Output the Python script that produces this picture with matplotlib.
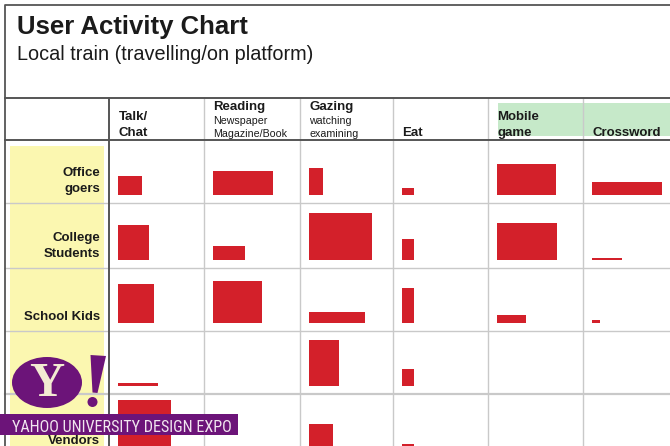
"""User activity chart - local train (travelling/on platform)."""
import matplotlib
matplotlib.use('Agg')
import matplotlib.pyplot as plt
import matplotlib.patches as mpatches
from matplotlib import font_manager

# ── Data ─────────────────────────────────────────────────────────────────────
activities = ['Talk/\nChat', 'Reading', 'Gazing', 'Eat', 'Mobile\ngame', 'Crossword']
activity_notes = ['', 'Newspaper\nMagazine/Book', 'watching\nexamining', '', '', '']
user_groups = ['Office\ngoers', 'College\nStudents', 'School Kids', '', 'Vendors']

# bar width / height per user group (one value per activity), 0 = no bar
bar_width = [
    [24, 60, 14, 12, 59, 70],
    [31, 32, 63, 12, 60, 30],
    [36, 49, 56, 12, 29, 8],
    [40, 0, 30, 12, 0, 0],
    [53, 0, 24, 12, 0, 0],
]
bar_height = [
    [19, 24, 27, 7, 31, 13],
    [35, 14, 47, 21, 37, 2],
    [39, 42, 11, 35, 8, 3],
    [3, 0, 46, 17, 0, 0],
    [49, 0, 25, 5, 0, 0],
]

# ── Layout ───────────────────────────────────────────────────────────────────
W, H = 670, 446
COL_X = [109, 204, 300, 393, 488, 583]
ROW_Y = [140, 203, 268, 331, 394, 457]
HEAD_TOP = 98
RED = '#d3202a'
DARK = '#555555'
GRID = '#c9c9c9'
INK = '#1b1b1b'
PURPLE = '#6c1479'

plt.rcParams['font.family'] = ['Liberation Sans', 'DejaVu Sans']


def find_narrow():
    # a condensed face for the badge banner, if one is installed
    for fam, stretch in [('Liberation Sans Narrow', 'normal'), ('Roboto Condensed', 'normal'),
                         ('Open Sans Condensed', 'normal'), ('DejaVu Sans', 'condensed'),
                         ('Noto Sans', 'condensed'), ('Open Sans', 'condensed')]:
        try:
            path = font_manager.findfont(
                font_manager.FontProperties(family=fam, stretch=stretch),
                fallback_to_default=False)
        except ValueError:
            continue
        if stretch == 'normal' or 'ondensed' in path:
            return fam, stretch
    return 'Liberation Sans', 'normal'


fig = plt.figure(figsize=(W / 100, H / 100), dpi=100)
ax = fig.add_axes([0, 0, 1, 1])
ax.set_xlim(0, W)
ax.set_ylim(H, 0)
ax.axis('off')

# frame
ax.plot([4.5, 4.5, W], [H, 4.5, 4.5], color=DARK, lw=1.3, zorder=3)

ax.text(17, 34, 'User Activity Chart', fontsize=18.5, fontweight='bold',
        color=INK, va='baseline')
ax.text(17, 60, 'Local train (travelling/on platform)', fontsize=14.3,
        color=INK, va='baseline')

# highlighted columns + label column
ax.add_patch(mpatches.Rectangle((498, 103), W - 498, 33, color='#c6e9c9', lw=0, zorder=1))
ax.add_patch(mpatches.Rectangle((10, 146), 94, H - 146, color='#fbf7b0', lw=0, zorder=1))

# grid
for x in COL_X[1:]:
    ax.plot([x, x], [HEAD_TOP, H], color=GRID, lw=1.0, zorder=2)
for i, y in enumerate(ROW_Y[1:-1]):
    ax.plot([4.5, W], [y, y], color=GRID, lw=1.6 if i == 3 else 1.0, zorder=2)
ax.plot([4.5, W], [HEAD_TOP, HEAD_TOP], color=DARK, lw=1.4, zorder=3)
ax.plot([4.5, W], [ROW_Y[0], ROW_Y[0]], color=DARK, lw=1.4, zorder=3)
ax.plot([COL_X[0], COL_X[0]], [HEAD_TOP, H], color=DARK, lw=1.4, zorder=3)

# column headers
for c, (name, note) in enumerate(zip(activities, activity_notes)):
    x = COL_X[c] + 9.5
    if note:
        ax.text(x, 110, name, fontsize=9.5, fontweight='bold', color=INK,
                va='baseline', zorder=4)
        for k, line in enumerate(note.split('\n')):
            ax.text(x, 124 + 13 * k, line, fontsize=7.7, color=INK,
                    va='baseline', zorder=4)
    else:
        lines = name.split('\n')
        for k, line in enumerate(lines):
            ax.text(x, 136 - 16 * (len(lines) - 1 - k), line, fontsize=9.5,
                    fontweight='bold', color=INK, va='baseline', zorder=4)

# row labels
for r, label in enumerate(user_groups):
    if not label:
        continue
    lines = label.split('\n')
    base = min(ROW_Y[r + 1] - 11, H - 1.5)
    for k, line in enumerate(lines):
        ax.text(100, base - 16 * (len(lines) - 1 - k), line, fontsize=9.5,
                fontweight='bold', color=INK, ha='right', va='baseline', zorder=4)

# bars: anchored at the bottom-left corner of each cell
for r in range(len(user_groups)):
    bottom = ROW_Y[r + 1] - 8
    for c in range(len(activities)):
        w, h = bar_width[r][c], bar_height[r][c]
        if w and h:
            ax.bar(COL_X[c] + 9, h, width=w, bottom=bottom - h, align='edge',
                   color=RED, lw=0, zorder=5)

# ── Yahoo badge ──────────────────────────────────────────────────────────────
ax.add_patch(mpatches.Ellipse((47, 382.5), 70, 51, color=PURPLE, lw=0, zorder=8))
ax.text(46.5, 384.5, 'Y', fontsize=35, fontweight='bold', color='#f3ebd2',
        family=['Liberation Serif', 'DejaVu Serif'], ha='center', va='center', zorder=9)
# exclamation mark: tapered stroke + dot
ax.add_patch(mpatches.Polygon([(90.5, 355), (106, 356), (97.5, 393), (92.5, 392.5)],
                              closed=True, color=PURPLE, lw=0, zorder=8))
ax.add_patch(mpatches.Ellipse((92.5, 402), 10, 10, color=PURPLE, lw=0, zorder=8))
ax.add_patch(mpatches.Rectangle((0, 414), 238, 21, color=PURPLE, lw=0, zorder=8))

narrow, stretch = find_narrow()
banner = ax.text(12.5, 432, 'YAHOO UNIVERSITY DESIGN EXPO', fontsize=15,
                 family=narrow, stretch=stretch, color='#f1e6ef', va='baseline', zorder=9)
fig.canvas.draw()
bw = banner.get_window_extent().width
banner.set_fontsize(15 * min(1.0, 221 / bw))

fig.savefig('out.png', dpi=100)
